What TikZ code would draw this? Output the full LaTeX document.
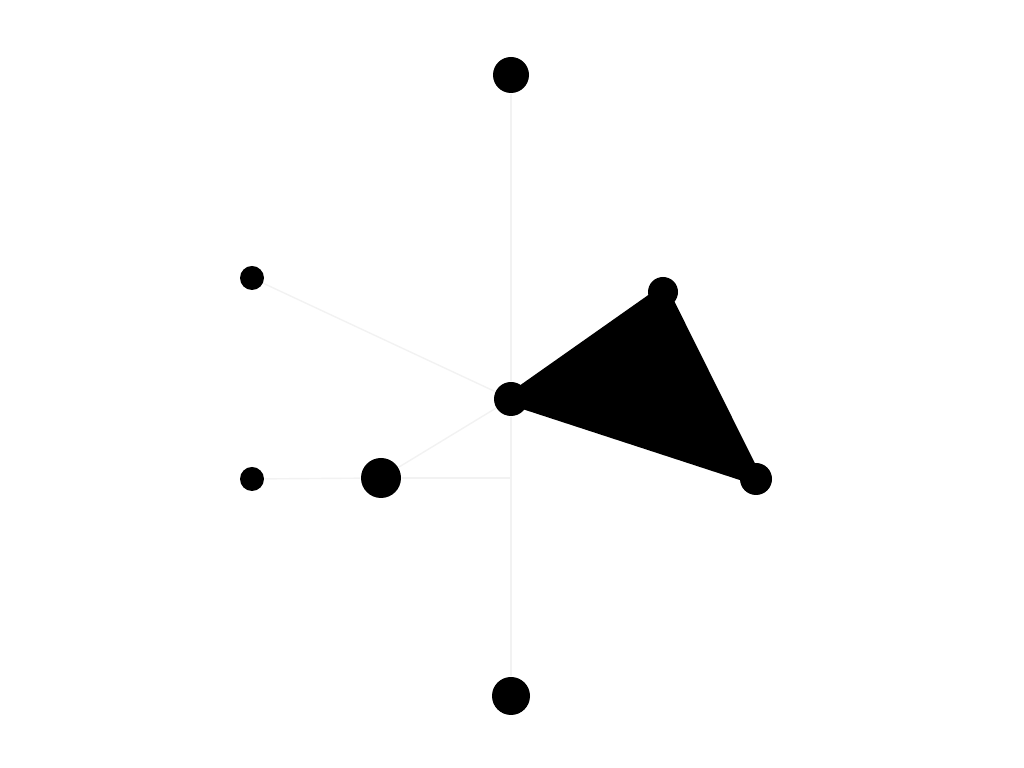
\documentclass[tikz,border=0pt]{standalone}
\begin{document}
\begin{tikzpicture}[dot/.style={circle, fill=black, inner sep=0pt},
  faint/.style={draw=black!5, line width=0.4pt}]
  \useasboundingbox (0,0) rectangle (10.24,7.68);
  \node[dot, minimum size=3.6mm] (top) at (5.11,6.93) {};
  \node[dot, minimum size=2.4mm] (ul) at (2.52,4.90) {};
  \node[dot, minimum size=2.4mm] (ll) at (2.52,2.89) {};
  \node[dot, minimum size=4.0mm] (lm) at (3.81,2.90) {};
  \node[dot, minimum size=3.4mm] (mid) at (5.11,3.69) {};
  \node[dot, minimum size=3.0mm] (tr) at (6.63,4.76) {};
  \node[dot, minimum size=3.2mm] (br) at (7.56,2.89) {};
  \node[dot, minimum size=3.8mm] (bot) at (5.11,0.72) {};
  \coordinate (hx) at (5.11,2.90);
  % faint connectors
  \draw[faint] (top) -- (mid) -- (bot);
  \draw[faint] (ul) -- (mid);
  \draw[faint] (lm) -- (mid);
  \draw[faint] (ll) -- (lm);
  \draw[faint] (lm) -- (hx);
  % solid triangle
  \filldraw[line width=1.2mm, line join=round] (mid.center) -- (tr.center) -- (br.center) -- cycle;
\end{tikzpicture}
\end{document}
